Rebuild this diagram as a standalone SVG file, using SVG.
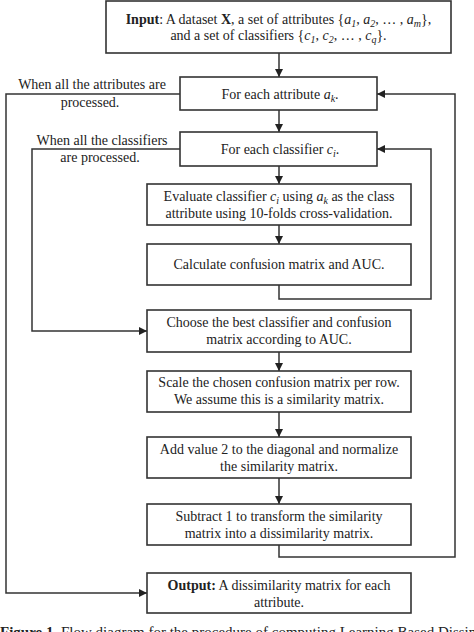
<svg xmlns="http://www.w3.org/2000/svg" width="474" height="632" viewBox="0 0 474 632">
<defs>
<marker id="ah" viewBox="0 0 10 10" refX="10" refY="5" markerWidth="8" markerHeight="8" markerUnits="userSpaceOnUse" orient="auto">
<path d="M0,0 L10,5 L0,10 z" fill="#222"/>
</marker>
<style>
.box{fill:#fff;stroke:#333;stroke-width:1.6}
.t{font-family:'Liberation Serif','Times New Roman',serif;font-size:14px;fill:#222;text-anchor:middle}
.m{font-style:italic}
.s{font-size:10px;font-style:italic}
.b{font-weight:bold}
.ca{fill:none;stroke:#333;stroke-width:1.5;marker-end:url(#ah)}
</style>
</defs>
<rect width="474" height="632" fill="#fff"/>

<g id="connectors">
<path class="ca" d="M279,53 V77"/>
<path class="ca" d="M279,110 V132"/>
<path class="ca" d="M279,166 V184"/>
<path class="ca" d="M279,225 V244"/>
<path class="ca" d="M279,285 V299 H431 V149 H377"/>
<path class="ca" d="M180,149 H32 V331 H147"/>
<path class="ca" d="M180,94 H6 V593 H147"/>
<path class="ca" d="M279,352 V371"/>
<path class="ca" d="M279,412 V437"/>
<path class="ca" d="M279,478 V504"/>
<path class="ca" d="M279,545 V557 H455 V94 H377"/>
<text class="t" x="92" y="89">When all the attributes are</text>
<text class="t" x="90" y="107">processed.</text>
<text class="t" x="102" y="145">When all the classifiers</text>
<text class="t" x="100" y="162">are processed.</text>
</g>

<g id="input">
<rect class="box" x="106" y="1" width="345" height="52"/>
<text class="t" x="278.5" y="24"><tspan class="b">Input</tspan>: A dataset <tspan class="b">X</tspan>, a set of attributes {<tspan class="m">a</tspan><tspan class="s" dy="3">1</tspan><tspan dy="-3">, </tspan><tspan class="m">a</tspan><tspan class="s" dy="3">2</tspan><tspan dy="-3">, … , </tspan><tspan class="m">a</tspan><tspan class="s" dy="3">m</tspan><tspan dy="-3">},</tspan></text>
<text class="t" x="278.5" y="40">and a set of classifiers {<tspan class="m">c</tspan><tspan class="s" dy="3">1</tspan><tspan dy="-3">, </tspan><tspan class="m">c</tspan><tspan class="s" dy="3">2</tspan><tspan dy="-3">, … , </tspan><tspan class="m">c</tspan><tspan class="s" dy="3">q</tspan><tspan dy="-3">}.</tspan></text>
</g>

<g id="attr">
<rect class="box" x="180" y="77" width="197" height="33"/>
<text class="t" x="280" y="99">For each attribute <tspan class="m">a</tspan><tspan class="s" dy="3">k</tspan><tspan dy="-3">.</tspan></text>
</g>

<g id="clf">
<rect class="box" x="180" y="132" width="197" height="34"/>
<text class="t" x="280" y="154">For each classifier <tspan class="m">c</tspan><tspan class="s" dy="3">i</tspan><tspan dy="-3">.</tspan></text>
</g>

<g id="evaluate">
<rect class="box" x="147" y="184" width="264" height="41"/>
<text class="t" x="279" y="201">Evaluate classifier <tspan class="m">c</tspan><tspan class="s" dy="3">i</tspan><tspan dy="-3"> using </tspan><tspan class="m">a</tspan><tspan class="s" dy="3">k</tspan><tspan dy="-3"> as the class</tspan></text>
<text class="t" x="279" y="218">attribute using 10-folds cross-validation.</text>
</g>

<g id="calc">
<rect class="box" x="147" y="244" width="264" height="41"/>
<text class="t" x="279" y="269">Calculate confusion matrix and AUC.</text>
</g>

<g id="choose">
<rect class="box" x="147" y="310" width="264" height="42"/>
<text class="t" x="279" y="327">Choose the best classifier and confusion</text>
<text class="t" x="279" y="344">matrix according to AUC.</text>
</g>

<g id="scale">
<rect class="box" x="147" y="371" width="264" height="41"/>
<text class="t" x="279" y="387">Scale the chosen confusion matrix per row.</text>
<text class="t" x="279" y="404">We assume this is a similarity matrix.</text>
</g>

<g id="add">
<rect class="box" x="147" y="437" width="264" height="41"/>
<text class="t" x="279" y="454">Add value 2 to the diagonal and normalize</text>
<text class="t" x="279" y="471">the similarity matrix.</text>
</g>

<g id="subtract">
<rect class="box" x="147" y="504" width="264" height="41"/>
<text class="t" x="279" y="521">Subtract 1 to transform the similarity</text>
<text class="t" x="279" y="538">matrix into a dissimilarity matrix.</text>
</g>

<g id="output">
<rect class="box" x="147" y="573" width="264" height="40"/>
<text class="t" x="279" y="590"><tspan class="b">Output:</tspan> A dissimilarity matrix for each</text>
<text class="t" x="279" y="607">attribute.</text>
</g>

<text x="0" y="637" font-family="'Liberation Serif','Times New Roman',serif" font-size="15" fill="#222"><tspan font-weight="bold">Figure 1.</tspan> Flow diagram for the procedure of computing Learning Based Dissimilarity</text>
</svg>
